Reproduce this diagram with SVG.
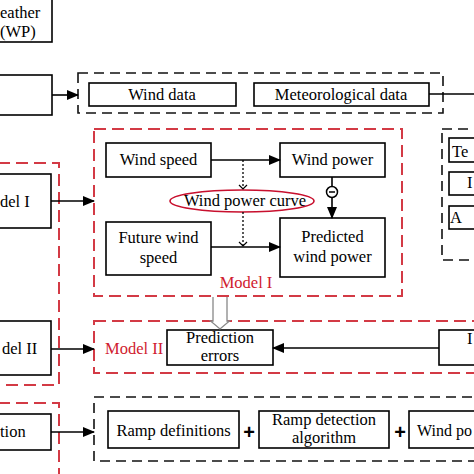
<svg xmlns="http://www.w3.org/2000/svg" width="474" height="474" viewBox="0 0 474 474">
<style>
.box{fill:#fff;stroke:#000;stroke-width:1.6}
.dk{fill:none;stroke:#111;stroke-width:1.6;stroke-dasharray:10 6}
.dr{fill:none;stroke:#d33a45;stroke-width:2;stroke-dasharray:12 6}
.t{font-family:"Liberation Serif","Times New Roman",serif;font-size:16.5px;fill:#000}
.c{text-anchor:middle}
.e{text-anchor:end}
.r{fill:#d0202e}
.ln{stroke:#000;stroke-width:1.6;fill:none}
.pl{font-family:"Liberation Sans",Arial,sans-serif;font-size:20px;font-weight:bold;text-anchor:middle}
</style>
<defs>
<marker id="ah" markerWidth="12" markerHeight="10" refX="11" refY="5" orient="auto" markerUnits="userSpaceOnUse">
<path d="M0,0 L12,5 L0,10 Z" fill="#000"/>
</marker>
<marker id="ch" markerWidth="10" markerHeight="8" refX="5" refY="5" orient="0" markerUnits="userSpaceOnUse">
<path d="M1,1 L5,5 L9,1" fill="none" stroke="#000" stroke-width="1.2"/>
</marker>
</defs>
<rect width="474" height="474" fill="#fff"/>

<!-- group boxes -->
<g id="groups">
<rect class="dk" x="78" y="73" width="365" height="40"/>
<rect class="dr" x="94" y="129" width="308" height="167"/>
<rect class="dk" x="442" y="129" width="60" height="131"/>
<rect class="dr" x="-20" y="163" width="79" height="222"/>
<rect class="dr" x="94" y="321" width="400" height="52"/>
<rect class="dr" x="-20" y="403" width="79" height="90"/>
<rect class="dk" x="94" y="397" width="400" height="64"/>
</g>

<g id="n-nwp">
<rect class="box" x="-10" y="-5" width="62" height="47"/>
<text class="t" x="0" y="18">eather</text>
<text class="t" x="0" y="37">(WP)</text>
</g>
<g id="n-left2"><rect class="box" x="-10" y="75" width="62" height="40"/></g>
<g id="n-model1"><rect class="box" x="-10" y="174" width="61" height="54"/><text class="t" x="0" y="207">del I</text></g>
<g id="n-model2"><rect class="box" x="-10" y="321" width="61" height="54"/><text class="t" x="2" y="354">del II</text></g>
<g id="n-ramp"><rect class="box" x="-10" y="414" width="61" height="36"/><text class="t" x="0" y="437">tion</text></g>

<g id="n-winddata"><rect class="box" x="89" y="83" width="147" height="23"/><text class="t c" x="162" y="100">Wind data</text></g>
<g id="n-meteo"><rect class="box" x="254" y="83" width="175" height="23"/><text class="t c" x="341" y="100">Meteorological data</text></g>

<g id="n-windspeed"><rect class="box" x="106" y="143" width="105" height="34"/><text class="t c" x="158.5" y="165">Wind speed</text></g>
<g id="n-windpower"><rect class="box" x="280" y="143" width="105" height="34"/><text class="t c" x="332.5" y="165">Wind power</text></g>
<g id="n-future"><rect class="box" x="106" y="222" width="105" height="53"/><text class="t c" x="158.5" y="243">Future wind</text><text class="t c" x="158.5" y="263">speed</text></g>
<g id="n-predicted"><rect class="box" x="280" y="218" width="105" height="59"/><text class="t c" x="332.5" y="242">Predicted</text><text class="t c" x="332.5" y="262">wind power</text></g>
<g id="n-curve"><ellipse cx="242" cy="201" rx="72" ry="11" fill="#fff" stroke="#c8102e" stroke-width="1.6"/><text class="t c" x="245" y="206">Wind power curve</text></g>
<g id="l-model1"><text class="t c r" x="246" y="288">Model I</text></g>

<g id="n-te"><rect class="box" x="449" y="138" width="40" height="24"/><text class="t" x="452" y="157">Te</text></g>
<g id="n-i"><rect class="box" x="449" y="172" width="40" height="23"/><text class="t" x="467" y="188">I</text></g>
<g id="n-a"><rect class="box" x="449" y="206" width="40" height="23"/><text class="t" x="450" y="223">A</text></g>

<g id="l-model2"><text class="t r" x="105" y="354">Model II</text></g>
<g id="n-prederr"><rect class="box" x="167" y="330" width="106" height="35"/><text class="t c" x="220" y="343">Prediction</text><text class="t c" x="220" y="361">errors</text></g>
<g id="n-rightI"><rect class="box" x="439" y="330" width="60" height="35"/><text class="t" x="467" y="344">I</text></g>

<g id="n-rampdef"><rect class="box" x="108" y="411" width="131" height="37"/><text class="t c" x="173.5" y="436">Ramp definitions</text></g>
<g id="n-rampalg"><rect class="box" x="259" y="411" width="130" height="37"/><text class="t c" x="324" y="425">Ramp detection</text><text class="t c" x="324" y="443">algorithm</text></g>
<g id="n-windpo"><rect class="box" x="409" y="411" width="90" height="37"/><text class="t" x="417" y="436" style="font-size:16px">Wind po</text></g>
<g id="plus"><text class="pl" x="249" y="439">+</text><text class="pl" x="400" y="439">+</text></g>

<g id="connectors">
<line class="ln" x1="52" y1="95" x2="78" y2="95" marker-end="url(#ah)"/>
<line class="ln" x1="429" y1="94" x2="474" y2="94"/>
<line class="ln" x1="51" y1="201" x2="94" y2="201" marker-end="url(#ah)"/>
<line class="ln" x1="51" y1="349" x2="94" y2="349" marker-end="url(#ah)"/>
<line class="ln" x1="51" y1="432" x2="94" y2="432" marker-end="url(#ah)"/>
<line class="ln" x1="211" y1="160" x2="280" y2="160" marker-end="url(#ah)"/>
<line class="ln" x1="211" y1="247" x2="280" y2="247" marker-end="url(#ah)"/>
<line class="ln" x1="439" y1="348" x2="273" y2="348" marker-end="url(#ah)"/>
<line stroke="#000" stroke-width="1.3" stroke-dasharray="2 2" x1="243" y1="160" x2="243" y2="189" marker-end="url(#ch)"/>
<line stroke="#000" stroke-width="1.3" stroke-dasharray="2 2" x1="243" y1="212" x2="243" y2="246" marker-end="url(#ch)"/>
<line class="ln" x1="332" y1="177" x2="332" y2="186.5"/>
<circle cx="332" cy="192" r="5.5" fill="#fff" stroke="#000" stroke-width="1.5"/>
<line x1="329" y1="192" x2="335" y2="192" stroke="#000" stroke-width="1.5"/>
<line class="ln" x1="332" y1="197.5" x2="332" y2="218" marker-end="url(#ah)"/>
<path d="M213,297 L213,321 L210.5,321 L220,329 L229.5,321 L227,321 L227,297" fill="#fff" stroke="#888" stroke-width="1.3"/>
</g>
</svg>
